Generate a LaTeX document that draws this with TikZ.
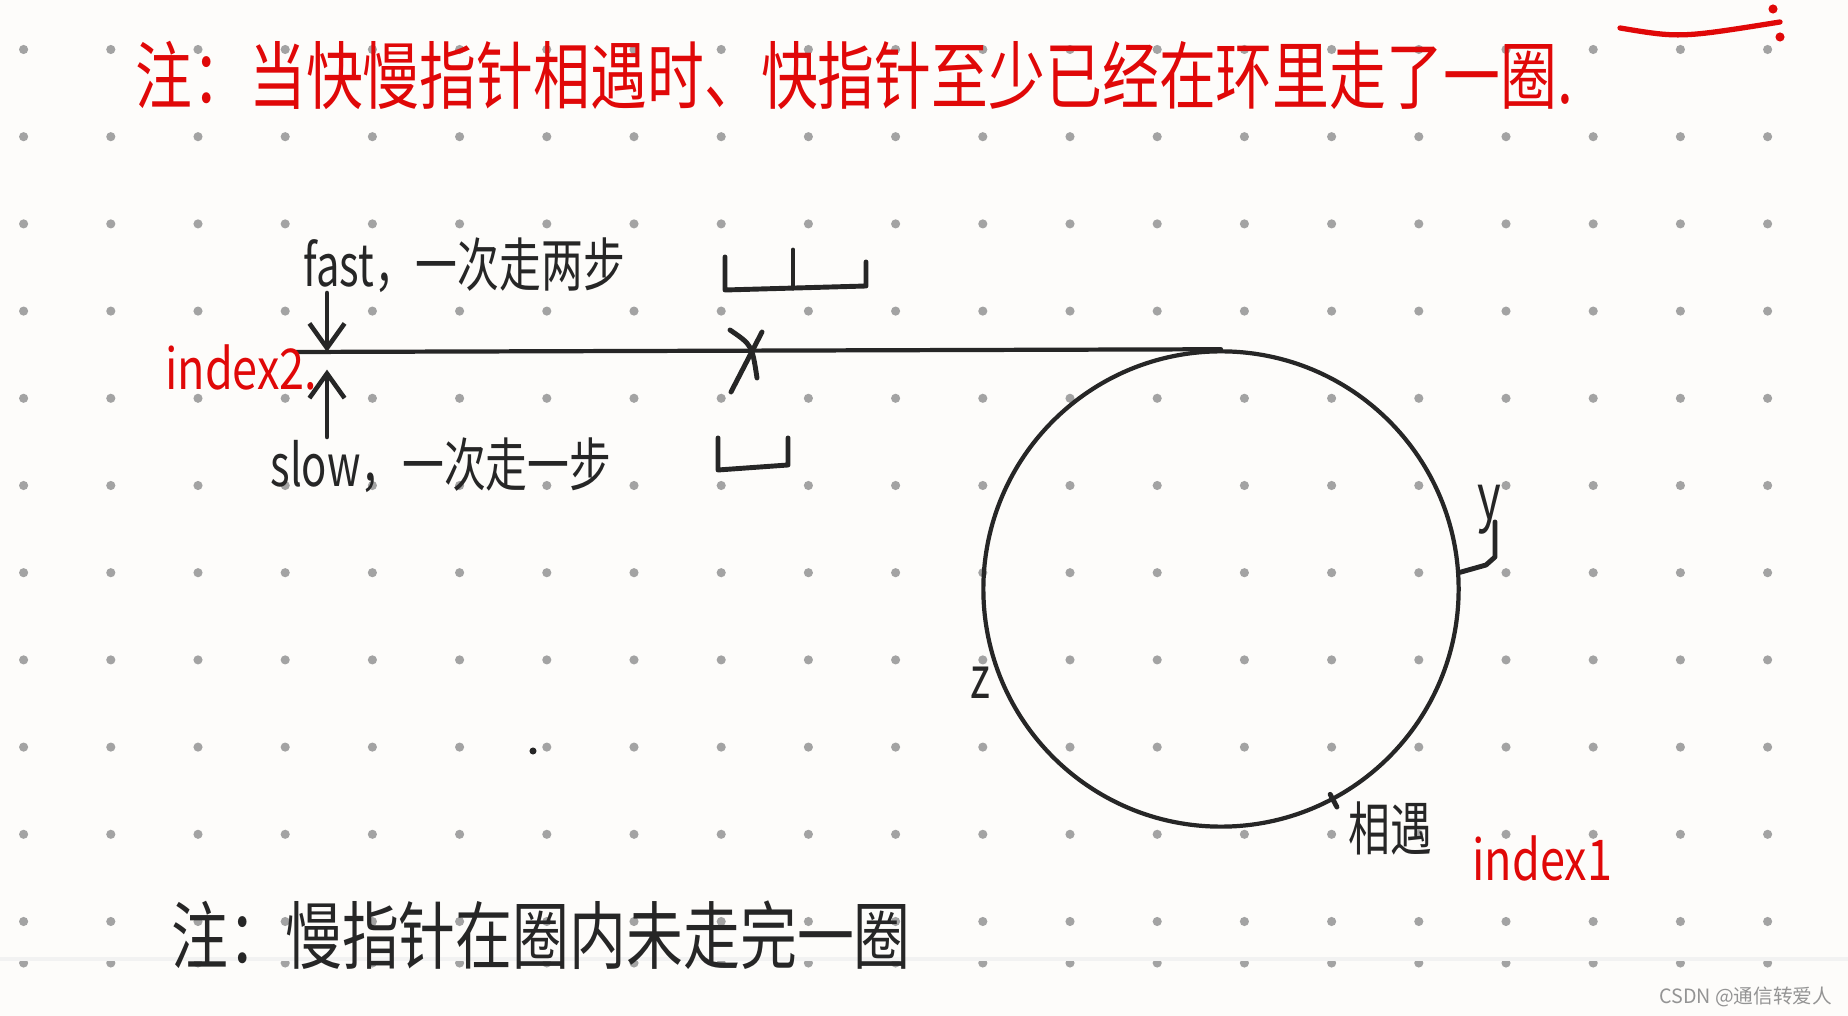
\documentclass[tikz,border=0pt]{standalone}
\usepackage{fontspec}
\newfontfamily\cjk{Noto Sans CJK SC}
\usetikzlibrary{
    arrows.meta,
    calc,
}

\definecolor{paper}{RGB}{253,252,250}
\definecolor{ink}{RGB}{38,38,38}
\definecolor{inkred}{RGB}{224,8,8}
\definecolor{griddot}{RGB}{163,163,163}

\tikzset{
  pen/.style={draw=ink, line width=1.4pt, line cap=round, line join=round},
  redpen/.style={draw=inkred, line width=1.5pt, line cap=round},
  handtext/.style={inner sep=0pt, text=ink, xscale=0.72,
    font=\cjk\fontsize{16.5}{18}\selectfont},
  bignote/.style={inner sep=0pt, xscale=0.77,
    font=\cjk\fontsize{21}{24}\selectfont},
  redtext/.style={inner sep=0pt, text=inkred, xscale=0.8,
    font=\cjk\fontsize{16}{18}\selectfont},
  handarrow/.style={pen, -{Straight Barb[length=7pt, width=10pt, line width=1.3pt]}},
}

\begin{document}
\begin{tikzpicture}[x=0.01cm, y=-0.01cm]
  \fill[paper] (0,0) rectangle (1848,1016);
  \useasboundingbox (0,0) rectangle (1848,1016);

  % dotted paper
  \foreach \i in {0,...,20} {
    \foreach \j in {0,...,10}
      \fill[griddot] ({23.6+87.2*\i},{49.5+87.2*\j}) circle[radius=1.3pt];
    \fill[griddot] ({23.6+87.2*\i},963) circle[radius=1.3pt];
  }
  \draw[black!5, line width=1pt] (0,959) -- (1848,959);

  % notes
  \node[bignote, text=inkred, anchor=west] (topnote) at (135,75)
    {注：当快慢指针相遇时、快指针至少已经在环里走了一圈.};
  \node[bignote, text=ink, anchor=west] (bottomnote) at (171,935)
    {注：慢指针在圈内未走完一圈};
  \draw[redpen] (1620,28) .. controls (1680,38) .. (1780,22);
  \fill[inkred] (1773,9) circle[radius=1.3pt] (1780,37) circle[radius=1.3pt];

  % list and loop
  \coordinate (start) at (296,352);
  \coordinate (idx2) at (327,352);
  \node[circle, draw=ink, line width=1.2pt, minimum size=4.75cm] (loop) at (1221,589) {};
  \draw[pen, line width=1.2pt] (start) -- (loop.north);

  \node[handtext, anchor=west] (fast) at (303,265) {fast，一次走两步};
  \node[handtext, anchor=west] (slow) at (270,465) {slow，一次走一步};
  \node[redtext, anchor=base east] (index2) at (318,390) {index2.};
  \draw[handarrow] (idx2 |- fast.south) -- (idx2);
  \draw[handarrow, shorten >=5pt] (idx2 |- slow.north) -- (idx2);

  % fast and slow after one move
  \coordinate (cross) at (746,353);
  \draw[pen] (730,330) .. controls (752,345) .. (757,378);
  \draw[pen] (762,332) -- (731,392);
  \draw[pen] (725,257) -- (725,290) -- (866,286) -- (866,262);
  \draw[pen] (793,250) -- (793,288);
  \draw[pen] (718,438) -- (718,470) -- (788,465) -- (788,438);
  \fill[ink] (533,751) circle[radius=1pt];

  % labels on the loop
  \node[handtext, font=\cjk\fontsize{18}{20}\selectfont] (ylab) at (1489,510) {y};
  \draw[pen] (1495,522) -- (1495,557) -- (1486,565) -- (loop.4);
  \node[handtext] (zlab) at (980,683) {z};
  \draw[pen] ($(loop.center)!0.97!(loop.-62)$) -- ($(loop.center)!1.03!(loop.-62)$);
  \node[handtext] (meet) at (1390,828) {相遇};
  \node[redtext, anchor=base west] (index1) at (1472,880) {index1};

  \node[inner sep=0pt, text=black!42, anchor=base east,
    font=\cjk\fontsize{5.6}{7}\selectfont] (mark) at (1833,1003) {CSDN @通信转爱人};
\end{tikzpicture}
\end{document}
